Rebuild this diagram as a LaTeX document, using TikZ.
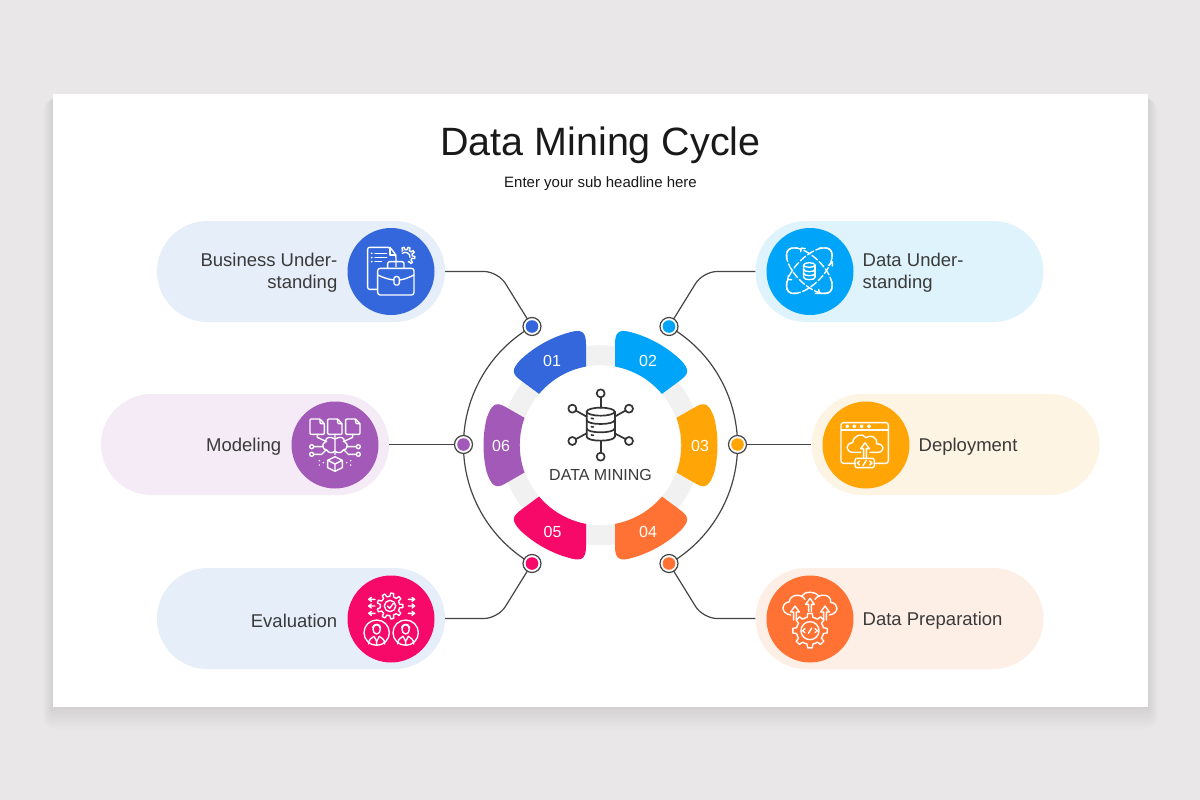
\documentclass[tikz,border=0pt]{standalone}
\usepackage{fontspec}
\setmainfont{Liberation Sans}
\usetikzlibrary{calc}
\definecolor{bgc}{HTML}{E9E7E8}
\definecolor{inkc}{HTML}{3A3A3A}
\definecolor{linec}{HTML}{454545}
\definecolor{ringc}{HTML}{F1F1F1}
\definecolor{cA}{HTML}{3367DB}
\definecolor{cB}{HTML}{00A5F9}
\definecolor{cC}{HTML}{FFA505}
\definecolor{cD}{HTML}{FF7234}
\definecolor{cE}{HTML}{F7096A}
\definecolor{cF}{HTML}{A259B8}
\definecolor{pA}{HTML}{E6EEF9}
\definecolor{pB}{HTML}{DFF3FD}
\definecolor{pC}{HTML}{FEF4E3}
\definecolor{pD}{HTML}{FEEFE6}
\definecolor{pF}{HTML}{F4EBF6}
\tikzset{
  pill/.style={rectangle,rounded corners=50.5pt,minimum width=288pt,minimum height=101pt,inner sep=0pt,fill=#1},
  disc/.style={circle,minimum size=87pt,inner sep=0pt,fill=#1},
  conn/.style={draw=linec,line width=1.2pt},
  dotring/.style={circle,minimum size=18pt,inner sep=0pt,draw=linec,line width=1.2pt,fill=white},
  lbl/.style={text=inkc,font=\fontsize{18.5}{22}\selectfont,inner sep=0pt},
  num/.style={text=white,font=\fontsize{16}{19}\selectfont,inner sep=0pt},
  icon/.style={draw=white,line width=1.35pt,line cap=round,line join=round},
  crop/.style 2 args={shift={(#1,-#2)},x=0.33333pt,y=-0.33333pt},
}
% gear teeth: centre, inner radius, outer radius, step, angle list
\newcommand{\geartooth}[7][icon]{\foreach \a in {#7}{
  \draw[#1] ([shift={(#2,#3)}]\a-0.5*#6:#4) -- ([shift={(#2,#3)}]\a-0.27*#6:#4) -- ([shift={(#2,#3)}]\a-0.17*#6:#5) -- ([shift={(#2,#3)}]\a+0.17*#6:#5) -- ([shift={(#2,#3)}]\a+0.27*#6:#4) -- ([shift={(#2,#3)}]\a+0.5*#6:#4);}}
\newcommand{\lowarc}[4]{(#1-#3,#2) .. controls (#1-#3,#2+1.33*#4) and (#1+#3,#2+1.33*#4) .. (#1+#3,#2)}
\newcommand{\upicon}[3]{\draw[icon] (#1-4,#3) -- (#1-4,#2+18) -- (#1-13,#2+18) -- (#1,#2) -- (#1+13,#2+18) -- (#1+4,#2+18) -- (#1+4,#3);}
\newcommand{\codemark}[2]{\draw[icon] (#1-15,#2-6) -- (#1-22,#2) -- (#1-15,#2+6) (#1+15,#2-6) -- (#1+22,#2) -- (#1+15,#2+6) (#1+5,#2-8) -- (#1-5,#2+8);}
\newcommand{\docfold}[2]{\draw[icon,rounded corners=1pt] (#1,#2) -- (#1+30,#2) -- (#1+43,#2+14) -- (#1+43,#2+46) -- (#1,#2+46) -- cycle (#1+30,#2) -- (#1+30,#2+14) -- (#1+43,#2+14);}
\newcommand{\persona}[1]{\draw[icon] (#1,178) ellipse [x radius=11,y radius=14];
  \draw[icon] (#1-12,172) .. controls (#1-8,160) and (#1+8,160) .. (#1+12,172);
  \draw[icon] (#1-24,222) .. controls (#1-24,208) and (#1-16,204) .. (#1-8,199) (#1+24,222) .. controls (#1+24,208) and (#1+16,204) .. (#1+8,199);
  \draw[icon] (#1-8,199) -- (#1,214) -- (#1+8,199) (#1,214) -- (#1,224);}
% segment 02 / its mirror images, in ring coordinates (y up)
\newcommand{\segwide}[2]{\begin{scope}[shift={(600.5,-445.2)},#1]
  \fill[#2] (14.5,78.7) -- (14.5,101) .. controls (14.5,112.5) and (18,116) .. (28.5,113.5)
    arc[start angle=75.9,end angle=46.7,radius=117]
    .. controls (89.1,75.6) and (88.9,71.4) .. (79.1,64.4) -- (61.4,51.3)
    arc[start angle=39.9,end angle=79.6,radius=80] -- cycle;
\end{scope}}
\newcommand{\segside}[2]{\begin{scope}[shift={(600.5,-445.2)},#1]
  \fill[#2] (76,-27.3) arc[start angle=-19.8,end angle=19.8,radius=80.75]
    -- (95.6,38.6) .. controls (104.7,43.9) and (109.3,40.8) .. (114,26.3)
    arc[start angle=13,end angle=-13,radius=117]
    .. controls (109.3,-40.8) and (104.7,-43.9) .. (95.6,-38.6) -- cycle;
\end{scope}}
\begin{document}
\begin{tikzpicture}[x=1pt,y=1pt]
\useasboundingbox (0,0) rectangle (1200,-800);
\fill[bgc] (0,0) rectangle (1200,-800);
% slide shadow and slide
\foreach \s in {2,4,...,22}{
  \fill[black,opacity=0.0095,rounded corners=\s*0.5pt] (53-\s*0.45,-96-\s*0.2) rectangle (1148+\s*0.45,-707-\s);}
\fill[white] (53,-94) rectangle (1148,-707);
% title
\node[text=black!90,font=\fontsize{39.5}{46}\selectfont,inner sep=0pt] (title) at (600.5,-145) {Data Mining Cycle};
\node[text=black!90,font=\fontsize{15}{18}\selectfont,inner sep=0pt] (sub) at (600.5,-183.5) {Enter your sub headline here};
% pills
\node[pill=pA] (pillA) at (301,-271.5) {};
\node[pill=pB] (pillB) at (899.5,-271.5) {};
\node[pill=pC] (pillC) at (955.5,-444.5) {};
\node[pill=pD] (pillD) at (899.5,-618.5) {};
\node[pill=pA] (pillE) at (301,-618.5) {};
\node[pill=pF] (pillF) at (245,-444.5) {};
\node[disc=cA] (discA) at (391,-271.5) {};
\node[disc=cB] (discB) at (810,-271.5) {};
\node[disc=cC] (discC) at (866,-445) {};
\node[disc=cD] (discD) at (810,-619) {};
\node[disc=cE] (discE) at (391,-619) {};
\node[disc=cF] (discF) at (335,-445) {};
% labels
\node[lbl,align=right,anchor=east] (tA) at (337.5,-273) {Business Under-\\standing};
\node[lbl,align=left,anchor=west] (tB) at (862.5,-273) {Data Under-\\standing};
\node[lbl,anchor=west] (tC) at (918.5,-446.5) {Deployment};
\node[lbl,anchor=west] (tD) at (862.5,-620.5) {Data Preparation};
\node[lbl,anchor=east] (tE) at (337.5,-620.5) {Evaluation};
\node[lbl,anchor=east] (tF) at (281.5,-446.5) {Modeling};
% ring
\fill[ringc] (600.5,-445.2) circle[radius=100];
\node[circle,fill=white,minimum size=160pt,inner sep=0pt] (hub) at (600.5,-445.2) {};
\segwide{}{cB}
\segwide{xscale=-1}{cA}
\segwide{yscale=-1}{cD}
\segwide{xscale=-1,yscale=-1}{cE}
\segside{}{cC}
\segside{xscale=-1}{cF}
\node[num] (nA) at (552,-360.5) {01};
\node[num] (nB) at (648,-360.5) {02};
\node[num] (nC) at (700,-445.5) {03};
\node[num] (nD) at (648,-531.5) {04};
\node[num] (nE) at (552.5,-531.5) {05};
\node[num] (nF) at (501,-445.5) {06};
% dots and connectors
\coordinate (dA) at (532,-326.5);
\coordinate (dB) at (669,-326.5);
\coordinate (dC) at (737.5,-444.5);
\coordinate (dD) at (669,-563.5);
\coordinate (dE) at (532,-563.5);
\coordinate (dF) at (463.5,-444.5);
\coordinate (kA) at (498,-271.5);
\coordinate (kB) at (703,-271.5);
\coordinate (kD) at (703,-618.5);
\coordinate (kE) at (498,-618.5);
\draw[conn] ([shift={(600.5,-445.2)}]120:137) arc[start angle=120,end angle=240,radius=137];
\draw[conn] ([shift={(600.5,-445.2)}]60:137) arc[start angle=60,end angle=-60,radius=137];
\draw[conn,rounded corners=14pt] (pillA.east) -- (kA) -- (dA);
\draw[conn,rounded corners=14pt] (pillB.west) -- (kB) -- (dB);
\draw[conn,rounded corners=14pt] (pillD.west) -- (kD) -- (dD);
\draw[conn,rounded corners=14pt] (pillE.east) -- (kE) -- (dE);
\draw[conn] (pillC.west) -- (dC);
\draw[conn] (pillF.east) -- (dF);
\foreach \n/\c in {A/cA,B/cB,C/cC,D/cD,E/cE,F/cF}{
  \node[dotring] (ring\n) at (d\n) {};
  \fill[\c] (d\n) circle[radius=6.3];}
% centre icon
\begin{scope}[crop={450}{310},icon/.append style={draw=black!80,line width=1.7pt}]
  \draw[icon] (452,305) ellipse [x radius=42,y radius=12];
  \draw[icon] (410,305) -- (410,380) \lowarc{452}{380}{42}{12};
  \draw[icon] (494,305) -- (494,380);
  \draw[icon] \lowarc{452}{330}{42}{12};
  \draw[icon] \lowarc{452}{355}{42}{12};
  \draw[icon] (424,325) -- (430,326) (424,350) -- (430,351) (424,375) -- (430,376);
  \foreach \x/\y in {452/250,452/440,367/296,367/393,537/296,537/393}{\draw[icon] (\x,\y) circle[radius=12];}
  \draw[icon] (452,262) -- (452,293) (452,392) -- (452,428);
  \draw[icon] (378,302) -- (410,320) (378,387) -- (410,370) (526,302) -- (494,320) (526,387) -- (494,370);
\end{scope}
\node[text=inkc,font=\fontsize{16}{19}\selectfont,inner sep=0pt] (hubt) at (600.5,-475) {DATA MINING};
% icon A: document, gear, briefcase
\begin{scope}[crop={340}{210}]
  \draw[icon,rounded corners=2pt] (112,238) -- (83,238) -- (83,112) -- (150,112) -- (168,135) -- (168,170);
  \draw[icon] (150,112) -- (150,135) -- (168,135);
  \draw[icon] (105,130) -- (140,130) (105,143) -- (140,143) (105,155) -- (125,155);
  \foreach \y in {130,143,155}{\fill[white] (95,\y) circle[radius=3];}
  \draw[icon,rounded corners=2.5pt] (113,175) rectangle (222,255);
  \draw[icon,rounded corners=1.5pt] (143,175) -- (143,155) -- (192,155) -- (192,175);
  \draw[icon] (113,195) .. controls (130,203) and (145,208) .. (162,210) (178,210) .. controls (195,208) and (205,203) .. (222,195);
  \draw[icon,rounded corners=1.5pt] (162,200) rectangle (178,225);
  \geartooth{198}{138}{19}{27}{40}{-110,-70,-30,10,50}
  \draw[icon] (187,130) .. controls (195,122) and (212,130) .. (210,142);
\end{scope}
% icon B: database and orbits
\begin{scope}[crop={760}{210}]
  \draw[icon] (148,165) ellipse [x radius=17,y radius=7];
  \draw[icon] (131,165) -- (131,202) \lowarc{148}{202}{17}{7};
  \draw[icon] (165,165) -- (165,202);
  \draw[icon] \lowarc{148}{178}{17}{7};
  \draw[icon] \lowarc{148}{190}{17}{7};
  \draw[icon,dash pattern=on 7pt off 2.5pt,rotate around={45:(148,182)}] (148,182) ellipse [x radius=88,y radius=40];
  \draw[icon,dash pattern=on 7pt off 2.5pt,rotate around={-45:(148,182)}] (148,182) ellipse [x radius=88,y radius=40];
  \draw[icon,rounded corners=6pt] (80,145) -- (80,114) -- (112,114);
  \draw[icon,rounded corners=6pt] (80,215) -- (80,250) -- (112,250);
  \draw[icon,rounded corners=6pt] (178,250) -- (216,250) -- (216,215);
  \draw[icon,rounded corners=6pt] (178,114) -- (216,114) -- (216,145);
  \draw[icon] (122,125) -- (124,114) -- (136,116) (85,197) -- (83,209) -- (95,209);
  \draw[icon] (166,250) -- (178,250) -- (176,238) (205,167) -- (217,155) -- (217,168);
\end{scope}
% icon C: browser, cloud, upload
\begin{scope}[crop={815}{395}]
  \draw[icon,rounded corners=2.5pt] (120,205) -- (78,205) -- (78,83) -- (220,83) -- (220,205) -- (178,205);
  \draw[icon] (78,105) -- (220,105);
  \foreach \x in {97,118,140,162}{\draw[icon] (\x,94) circle[radius=4];}
  \draw[icon] (137,172) -- (115,172) .. controls (90,172) and (90,145) .. (113,143) .. controls (115,120) and (143,112) .. (153,128) .. controls (165,118) and (188,125) .. (185,147) .. controls (210,145) and (210,172) .. (188,172) -- (165,172);
  \upicon{150}{143}{190}
  \draw[icon,rounded corners=2pt] (120,190) rectangle (178,218);
  \codemark{149}{204}
\end{scope}
% icon D: clouds, arrows, gear
\begin{scope}[crop={760}{570}]
  \geartooth{150}{182}{41}{52}{45}{-90,-45,0,45,90,135,180,225}
  \draw[icon] (150,182) circle[radius=27];
  \codemark{150}{182}
  \upicon{105}{108}{150}
  \upicon{150}{85}{125}
  \upicon{195}{108}{150}
  \draw[icon] (92,135) .. controls (62,130) and (62,100) .. (88,95) .. controls (90,72) and (125,70) .. (135,88);
  \draw[icon] (125,78) .. controls (135,62) and (165,62) .. (178,80);
  \draw[icon] (165,88) .. controls (175,70) and (215,70) .. (212,97) .. controls (238,100) and (238,130) .. (208,135);
\end{scope}
% icon E: gear, arrows, two people
\begin{scope}[crop={340}{570}]
  \geartooth{150}{108}{29}{39}{40}{0,40,80,120,160,200,240,280,320}
  \draw[icon] (150,108) circle[radius=17];
  \draw[icon] (142,108) -- (149,115) -- (160,100);
  \foreach \y in {88,108,130}{
    \draw[icon] (105,\y) -- (86,\y) (94,\y-6) -- (86,\y) -- (94,\y+6);
    \draw[icon] (205,\y) -- (224,\y) (216,\y-6) -- (224,\y) -- (216,\y+6);}
  \draw[icon] (110,188) circle[radius=38];
  \draw[icon] (197,188) circle[radius=38];
  \persona{110}
  \persona{197}
\end{scope}
% icon F: documents, brain, cube
\begin{scope}[crop={285}{395}]
  \docfold{75}{72}
  \docfold{128}{72}
  \docfold{182}{72}
  \draw[icon] (97,118) -- (97,127) -- (125,140) (150,118) -- (150,178) (203,118) -- (203,127) -- (175,140);
  \draw[icon] (150,132) .. controls (135,122) and (120,128) .. (122,140) .. controls (108,145) and (112,165) .. (125,165) .. controls (130,175) and (145,175) .. (150,168) .. controls (155,175) and (170,175) .. (175,165) .. controls (188,165) and (192,145) .. (178,140) .. controls (180,128) and (165,122) .. (150,132);
  \draw[icon] (115,155) -- (86,155) (122,166) -- (110,178) -- (86,178) (185,155) -- (214,155) (178,166) -- (190,178) -- (214,178);
  \foreach \x/\y in {80/155,80/178,220/155,220/178}{\draw[icon] (\x,\y) circle[radius=6];}
  \draw[icon] (150,185) -- (172,196) -- (172,218) -- (150,229) -- (128,218) -- (128,196) -- cycle (128,196) -- (150,207) -- (172,196) (150,207) -- (150,229);
  \foreach \x/\y in {103/197,103/210,115/203,197/197,197/210,185/203}{\fill[white] (\x,\y) circle[radius=2.5];}
\end{scope}
\end{tikzpicture}
\end{document}
